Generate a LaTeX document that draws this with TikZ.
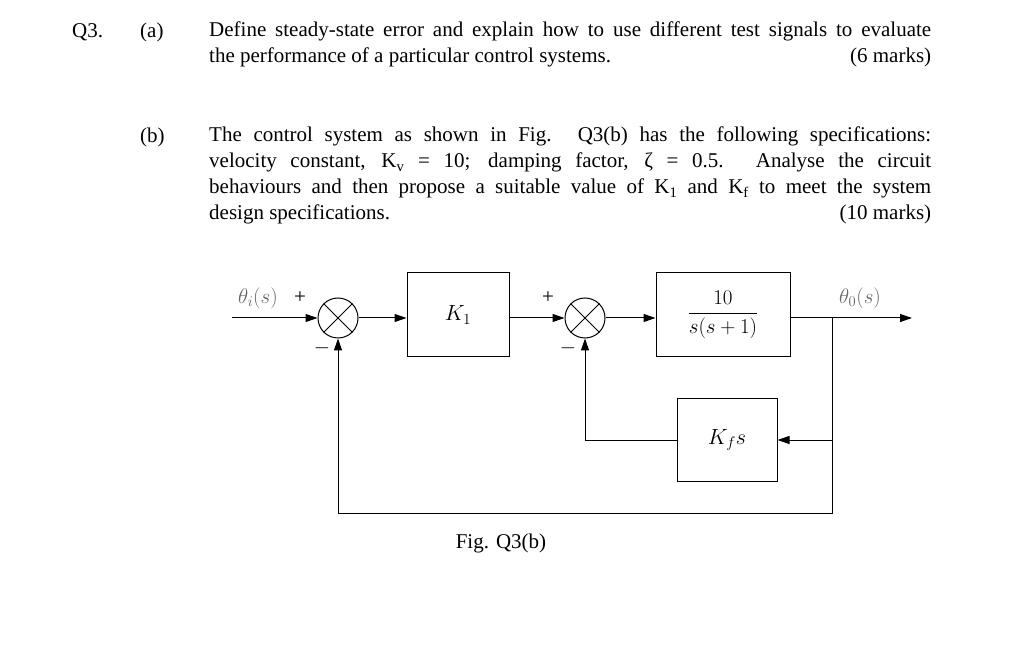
\documentclass[tikz,border=0pt]{standalone}
\usepackage{fix-cm}
\usepackage{amsmath}
\usepackage{fontspec}
\setmainfont{Liberation Serif}
\usetikzlibrary{arrows.meta}
\begin{document}
\begin{tikzpicture}[x=1pt,y=-1pt,
  txt/.style={anchor=base west,inner sep=0pt,font=\fontsize{21}{26}\selectfont},
  para/.style={anchor=north west,inner sep=0pt,text width=722pt,align=justify,font=\fontsize{21}{26}\selectfont},
  blk/.style={draw,line width=1pt,minimum width=#1,inner sep=0pt},
  sum/.style={draw,line width=1pt,circle,minimum size=40pt,inner sep=0pt},
  arr/.style={line width=1pt,-{Triangle[length=12pt,width=8pt]}},
  ln/.style={line width=1pt},
  lab/.style={font=\fontsize{21}{24}\selectfont,inner sep=0pt}]
\useasboundingbox (0,0) rectangle (1018,652);
\node[txt] (q) at (72,38) {Q3.};
\node[txt] (a) at (140,38) {(a)};
\node[para] (pa) at (209,22) {Define steady-state error and explain how to use different test signals to evaluate\linebreak the performance of a particular control systems.\hfill(6 marks)};
\node[txt] (b) at (140,143) {(b)};
\node[para] (pb) at (209,127) {The control system as shown in Fig. Q3(b) has the following specifications:\linebreak velocity constant, K\textsubscript{v} = 10; damping factor, ζ = 0.5. Analyse the circuit\linebreak behaviours and then propose a suitable value of K\textsubscript{1} and K\textsubscript{f} to meet the system\linebreak design specifications.\hfill(10 marks)};

\node[sum] (s1) at (338,318) {};
\draw[ln] (s1.north west) -- (s1.south east) (s1.north east) -- (s1.south west);
\node[sum] (s2) at (585,318) {};
\draw[ln] (s2.north west) -- (s2.south east) (s2.north east) -- (s2.south west);
\node[blk=102pt,minimum height=84pt] (k1) at (458,315) {\fontsize{22}{24}\selectfont$K_1$};
\node[blk=134pt,minimum height=84pt] (g) at (723,315) {\fontsize{21}{24}\selectfont$\dfrac{10}{s(s+1)}$};
\node[blk=100pt,minimum height=83pt] (kf) at (727,440) {\fontsize{22}{24}\selectfont$K_fs$};
\coordinate (in) at (232,318);
\coordinate (br) at (832,318);
\coordinate (out) at (912,318);
\draw[arr] (in) -- (s1);
\draw[arr] (s1) -- (k1.west |- s1);
\draw[arr] (k1.east |- s2) -- (s2);
\draw[arr] (s2) -- (g.west |- s2);
\draw[arr] (g.east |- br) -- (out);
\draw[arr] (br) -- (832,440) -- (kf.east);
\draw[arr] (kf.west) -- (585,440) -- (s2.south);
\draw[arr] (br) -- (832,513) -- (338,513) -- (s1.south);
\node[lab,text=black!60] (ti) at (258,298) {$\theta_i(s)$};
\node[lab] (p1) at (300,298) {+};
\node[lab] (m1) at (322,348) {$-$};
\node[lab] (p2) at (548,298) {+};
\node[lab] (m2) at (568,348) {$-$};
\node[lab,text=black!60] (to) at (860,298) {$\theta_0(s)$};
\node[lab] (fig) at (501,543) {Fig. Q3(b)};
\end{tikzpicture}
\end{document}
